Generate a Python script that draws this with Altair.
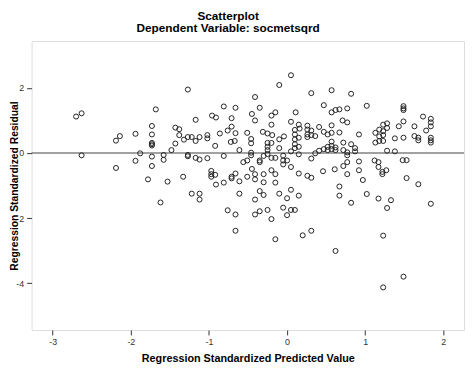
import altair as alt
import pandas as pd

# Regression standardized predicted value (x) and residual (y)
pred = [
    -2.70, -2.63, -2.63, -2.19, -2.14, -2.19, -1.94, -1.94, -1.88, -1.78,
    -1.73, -1.73, -1.73, -1.73, -1.73, -1.73, -1.73, -1.68, -1.62, -1.58,
    -1.58, -1.53, -1.48, -1.43, -1.43, -1.38, -1.38, -1.33, -1.32, -1.27,
    -1.27, -1.27, -1.27, -1.22, -1.22, -1.17, -1.17, -1.17, -1.12, -1.12,
    -1.12, -1.12, -1.02, -1.02, -1.02, -0.97, -0.97, -0.97, -0.92, -0.96,
    -0.91, -0.92, -0.91, -0.86, -0.81, -0.81, -0.81, -0.76, -0.76, -0.72,
    -0.71, -0.71, -0.71, -0.71, -0.67, -0.66, -0.66, -0.66, -0.66, -0.66,
    -0.61, -0.61, -0.61, -0.56, -0.51, -0.51, -0.51, -0.46, -0.46, -0.46,
    -0.46, -0.45, -0.45, -0.41, -0.41, -0.41, -0.41, -0.41, -0.41, -0.35,
    -0.35, -0.35, -0.35, -0.35, -0.31, -0.30, -0.30, -0.30, -0.30, -0.25,
    -0.25, -0.25, -0.25, -0.25, -0.20, -0.20, -0.19, -0.20, -0.20, -0.20,
    -0.20, -0.15, -0.15, -0.15, -0.15, -0.15, -0.10, -0.10, -0.10, -0.10,
    -0.04, -0.05, -0.05, -0.05, -0.05, 0.00, 0.00, 0.00, 0.05, 0.05,
    0.05, 0.05, 0.05, 0.05, 0.11, 0.10, 0.10, 0.10, 0.10, 0.10,
    0.10, 0.15, 0.16, 0.15, 0.15, 0.15, 0.15, 0.15, 0.20, -0.25,
    0.31, 0.26, 0.26, 0.26, 0.26, 0.26, 0.31, 0.31, 0.31, 0.31,
    0.31, 0.36, 0.36, 0.41, 0.41, 0.47, 0.47, 0.47, 0.46, 0.52,
    0.52, 0.52, 0.57, 0.57, 0.57, 0.57, 0.57, 0.57, 0.57, 0.62,
    0.62, 0.62, 0.61, 0.62, 0.67, 0.67, 0.67, 0.67, 0.71, 0.72,
    0.72, 0.72, 0.77, 0.77, 0.77, 0.77, 0.77, 0.77, 0.82, 0.82,
    0.82, 0.87, 0.87, 0.92, 0.92, 0.92, 0.97, 1.02, 1.02, 1.13,
    1.13, 1.12, 1.18, 1.18, 1.18, 1.17, 1.17, 1.17, 1.23, 1.23,
    1.23, 1.23, 1.22, 1.22, 1.23, 1.23, 1.28, 1.28, 1.28, 1.27,
    1.28, 1.33, 1.38, 1.38, 1.43, 1.49, 1.49, 1.49, 1.49, 1.49,
    1.48, 1.53, 1.53, 1.49, 1.63, 1.63, 1.68, 1.68, 1.68, 1.74,
    1.78, 1.84, 1.84, 1.84, 1.84, 1.84, 1.84, 1.84,
]
resid = [
    1.12, 1.22, -0.07, 0.38, 0.52, -0.46, 0.59, -0.24, -0.01, -0.81,
    0.83, 0.57, 0.31, 0.27, 0.23, -0.11, -0.40, 1.34, -1.52, -0.06,
    -0.21, -0.88, 0.09, 0.78, 0.29, 0.73, 0.55, -0.73, 0.41, 1.95,
    0.49, -0.06, -0.10, 0.49, -1.25, 1.02, 0.37, -0.15, 0.49, -0.20,
    -1.25, -1.43, 0.55, 0.45, -0.16, -0.55, -0.65, -0.73, -0.67, 1.15,
    1.09, 0.22, -0.97, 0.60, 1.43, -0.09, -0.91, 0.69, -1.76, 0.34,
    1.07, 0.81, -0.73, -0.78, 0.37, 1.39, 0.61, -0.63, -1.89, -2.39,
    0.09, -0.87, -1.25, -0.28, 0.62, -0.23, -0.73, 0.43, 0.30, 0.01,
    -0.07, 1.20, -0.49, 1.72, 1.00, -0.65, -0.81, -1.43, -1.89, 1.39,
    -0.23, -0.28, -1.17, -1.79, 0.65, -0.09, -0.65, -0.90, -1.29, 0.60,
    0.31, 0.19, 0.09, -1.75, 1.15, 0.87, 0.55, 0.31, -0.15, -0.53,
    -2.03, 1.25, -0.15, -0.65, -0.91, -2.65, 2.09, 0.42, 0.15, -1.25,
    0.51, -0.08, -0.23, -0.35, -1.68, -0.23, -1.39, -1.91, 2.39, 0.96,
    0.05, -0.43, -1.13, -1.75, 1.25, 0.71, 0.57, 0.42, 0.27, 0.15,
    -1.75, 0.87, 0.75, 0.47, 0.19, -0.04, -0.63, -1.31, -2.53, -0.03,
    -2.39, 0.84, 0.72, 0.57, 0.49, -0.70, 1.84, 0.69, 0.55, -0.17,
    -0.76, 0.52, -0.01, 0.80, 0.07, 1.47, 0.65, 0.12, -0.56, 0.57,
    0.19, 0.09, 1.93, 1.25, 0.85, 0.62, 0.35, 0.22, 0.12, 1.32,
    0.17, 0.09, -0.50, -3.01, 1.34, 0.63, -1.03, -1.31, 1.00, 0.32,
    0.09, -0.40, 1.37, 0.94, 0.02, -0.07, -0.28, -0.65, 1.82, 0.27,
    -1.53, 0.15, 0.05, 0.57, -0.26, -0.53, -0.83, 1.45, -1.26, 0.62,
    0.32, -0.23, 0.72, 0.51, 0.37, -0.28, -0.43, -1.40, 0.87, 0.67,
    0.55, 0.37, -0.58, -0.65, -2.54, -4.13, 0.91, 0.77, 0.07, -0.53,
    -1.69, -1.45, 0.45, 0.05, 0.82, 1.44, 1.37, 1.32, 0.97, 0.47,
    -0.22, -0.22, -0.77, -3.80, 0.82, 0.52, 0.47, 0.39, -0.96, 1.12,
    0.69, 1.05, 0.94, 0.82, 0.47, 0.39, 0.32, -1.56,
]

x_ticks = [-3, -2, -1, 0, 1, 2]
y_ticks = [-4, -2, 0, 2]
x_domain = [-3.27, 2.265]
y_domain = [-5.44, 3.44]
ref_line = [0.0]

FONT = "Liberation Sans"
HYPHEN_LABEL = "datum.value < 0 ? '-' + abs(datum.value) : '' + datum.value"

df = pd.DataFrame({"pred": pred, "resid": resid})
zero_df = pd.DataFrame({"resid": ref_line})

x_scale = alt.Scale(domain=x_domain, nice=False, zero=False)
y_scale = alt.Scale(domain=y_domain, nice=False, zero=False)

x_axis = alt.Axis(
    values=x_ticks, title="Regression Standardized Predicted Value",
    grid=False, domain=False, tickSize=5, tickColor="#333333",
    labelFont=FONT, labelFontSize=9, labelColor="#333333", labelPadding=3,
    labelFlush=False, labelOverlap=False, labelExpr=HYPHEN_LABEL,
    titleFont=FONT, titleFontSize=11, titleFontWeight="bold", titleColor="black",
    titleBaseline="alphabetic", titleY=32,
)
y_axis = alt.Axis(
    values=y_ticks, title="Regression Standardized Residual",
    grid=False, domain=False, tickSize=5, tickColor="#333333",
    labelFont=FONT, labelFontSize=9, labelColor="#333333", labelPadding=3,
    labelFlush=False, labelOverlap=False, labelExpr=HYPHEN_LABEL,
    titleFont=FONT, titleFontSize=10.5, titleFontWeight="bold", titleColor="black",
    titleAngle=270, titleAlign="center", titleBaseline="alphabetic",
    titleX=-14, titleY=147,
)

rule = alt.Chart(zero_df).mark_rule(color="#444444", strokeWidth=1.2).encode(
    y=alt.Y("resid:Q", scale=y_scale, axis=y_axis)
)

points = alt.Chart(df).mark_point(
    shape="circle", filled=False, size=26, strokeWidth=1, color="#222222", opacity=1
).encode(
    x=alt.X("pred:Q", scale=x_scale, axis=x_axis),
    y=alt.Y("resid:Q", scale=y_scale, axis=y_axis),
)

chart = alt.layer(rule, points).properties(
    width=440,
    height=294,
    padding={"left": 24, "top": 30.5, "right": 2, "bottom": 35.5},
    autosize=alt.AutoSizeParams(type="none"),
    title=alt.TitleParams(
        text="Scatterplot",
        subtitle="Dependent Variable: socmetsqrd",
        font=FONT, fontSize=12, fontWeight="bold", color="black",
        subtitleFont=FONT, subtitleFontSize=12, subtitleFontWeight="bold",
        subtitleColor="black", subtitlePadding=0,
        anchor="middle", offset=6, dx=-20,
    ),
).configure_view(
    fill="#F0F0F0", stroke="#333333", strokeWidth=1
).configure(background="white")

chart.save("out.html", embed_options={"renderer": "svg", "actions": False})
